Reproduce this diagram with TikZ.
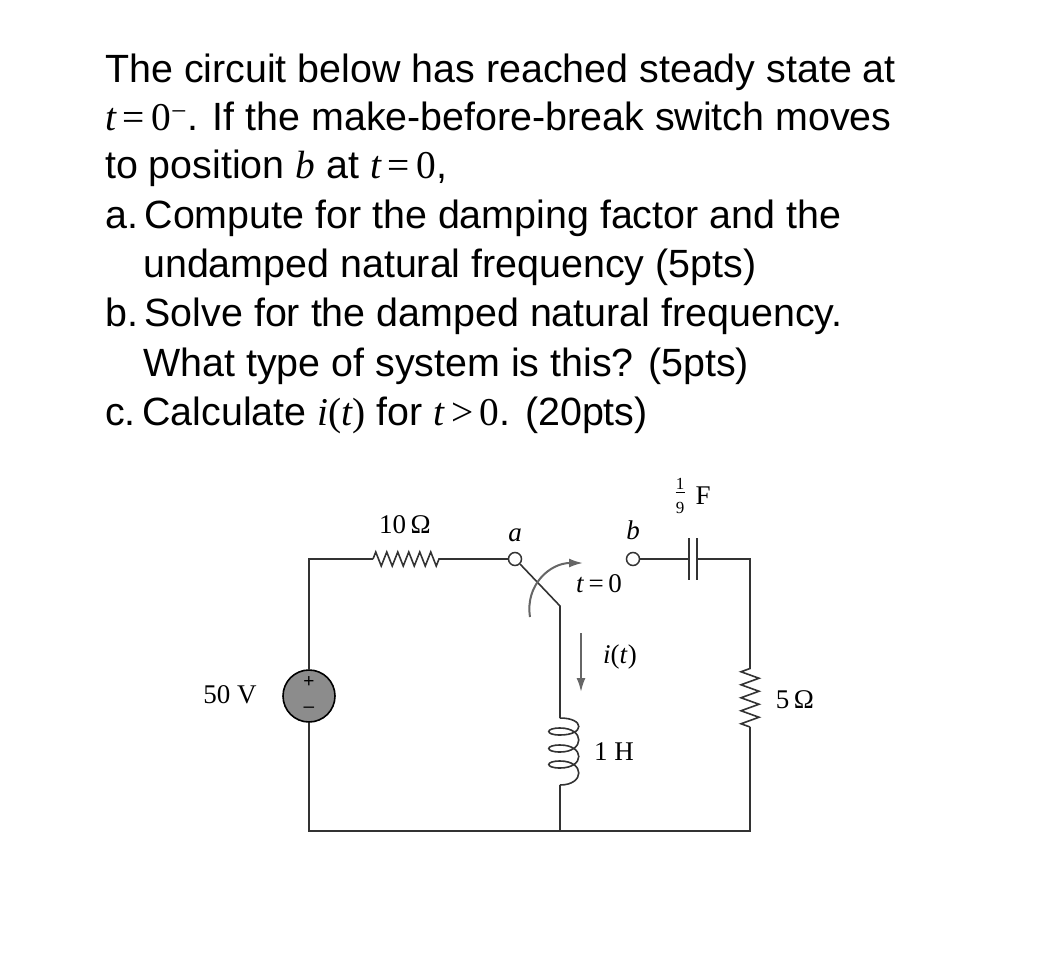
\documentclass[tikz,border=0pt]{standalone}
\usepackage{fontspec}
\setmainfont{Liberation Sans}
\newfontfamily\serifc{Liberation Serif}
\newcommand{\mv}[1]{{\serifc\itshape #1}}
\newcommand{\mr}[1]{{\serifc #1}}
\usetikzlibrary{decorations.pathmorphing,arrows.meta}
\begin{document}
\begin{tikzpicture}[x=1pt,y=-1pt,
  qline/.style={anchor=base west,inner sep=0pt,font=\fontsize{39.4}{44}\selectfont},
  clab/.style={inner sep=0pt,font=\serifc\fontsize{27}{30}\selectfont},
  wire/.style={line width=1.6pt,draw=black!80},
  term/.style={circle,draw=black!80,line width=1.5pt,fill=white,minimum size=13pt,inner sep=0pt},
  garrow/.style={line width=2pt,draw=black!60,-{Latex[length=14pt,width=9pt]}}]
\useasboundingbox (0,0) rectangle (1038,966);
\node[qline] (l1) at (105,82) {The circuit below has reached steady state at};
\node[qline] (l2) at (105,130) {\mv{t}\mr{\,=\,0\textsuperscript{−}}. If the make-before-break switch moves};
\node[qline] (l3) at (105,178) {to position \mv{b} at \mv{t}\mr{\,=\,0},};
\node[qline] (l4) at (105,228) {a.\,Compute for the damping factor and the};
\node[qline] (l5) at (143,277) {undamped natural frequency (5pts)};
\node[qline] (l6) at (105,326) {b.\,Solve for the damped natural frequency.};
\node[qline] (l7) at (143,376) {What type of system is this? (5pts)};
\node[qline] (l8) at (105,425) {c.\,Calculate \mv{i}\mr{(}\mv{t}\mr{)} for \mv{t}\mr{\,>\,0}. (20pts)};
% corners
\coordinate (tl) at (309,559); \coordinate (bl) at (309,831);
\coordinate (tr) at (750,559); \coordinate (br) at (750,831);
\coordinate (sw) at (560,606); \coordinate (bm) at (560,831);
\node[term] (a) at (515,559) {};
\node[term] (b) at (633,559) {};
\node[circle,draw=black,line width=1.6pt,fill=black!45,minimum size=52pt,inner sep=0pt] (src) at (309,696) {};
\node[inner sep=0pt,font=\fontsize{19}{19}\selectfont] (plus) at (309,682) {+};
\node[inner sep=0pt,font=\fontsize{19}{19}\selectfont] (minus) at (309,710) {--};
\draw[wire] (src.north) -- (tl) -- (373,559);
\draw[wire,decorate,decoration={zigzag,segment length=11pt,amplitude=7pt}] (373,559) -- (440,559);
\draw[wire] (440,559) -- (a.west);
\draw[wire] (a.south east) -- (sw) -- (560,718);
\draw[wire] (560,718) .. controls (585,718) and (585,735) .. (560,735)
  .. controls (545,735) and (545,728) .. (560,728)
  .. controls (585,728) and (585,752) .. (560,752)
  .. controls (545,752) and (545,745) .. (560,745)
  .. controls (585,745) and (585,768) .. (560,768)
  .. controls (545,768) and (545,761) .. (560,761)
  .. controls (585,761) and (585,785) .. (560,785);
\draw[wire] (560,785) -- (bm);
\draw[wire] (src.south) -- (bl) -- (bm) -- (br) -- (750,727);
\draw[wire,decorate,decoration={zigzag,segment length=13pt,amplitude=9pt}] (750,727) -- (750,663);
\draw[wire] (750,663) -- (tr) -- (697,559);
\draw[wire] (697,538) -- (697,580);
\draw[wire] (689,538) -- (689,580);
\draw[wire] (689,559) -- (b.east);
\draw[garrow] (530,617) .. controls (525,585) and (550,563) .. (583,563);
\draw[garrow] (581,633) -- (581,692);
\node[clab] (r1) at (405,525) {10\,Ω};
\node[clab,font=\serifc\itshape\fontsize{27}{30}\selectfont] (la) at (515,535) {a};
\node[clab,font=\serifc\itshape\fontsize{27}{30}\selectfont] (lb) at (633,530) {b};
\node[clab,font=\serifc\fontsize{17}{17}\selectfont] (num) at (680,484) {1};
\node[clab,font=\serifc\fontsize{17}{17}\selectfont] (den) at (680,508) {9};
\draw[line width=0.8pt] (num.south west) ++(0,3) coordinate (fl) -- ++(9,0) coordinate (fr);
\node[clab] (capF) at (703,496) {F};
\node[clab] (t0) at (599,584) {\textit{t}\,=\,0};
\node[clab] (it) at (620,657) {\textit{i}(\textit{t})};
\node[clab] (v50) at (230,695) {50 V};
\node[clab] (r5) at (795,700) {5\,Ω};
\node[clab] (l1h) at (614,752) {1 H};
\end{tikzpicture}
\end{document}
